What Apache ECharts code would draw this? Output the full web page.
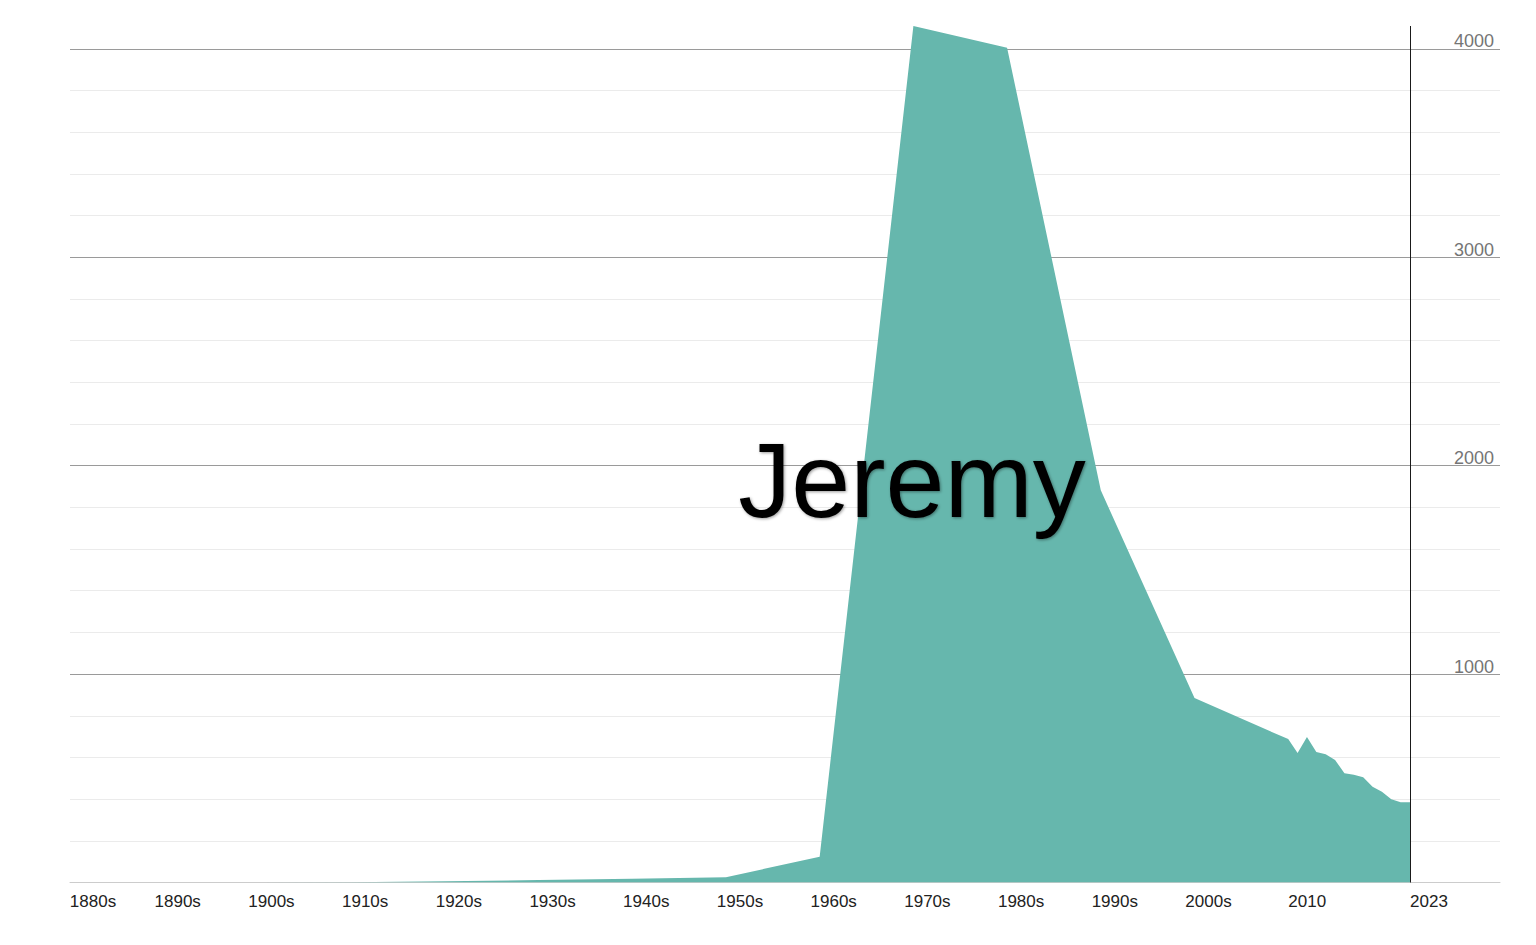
<!DOCTYPE html>
<html>
<head>
<meta charset="utf-8">
<script src="https://cdn.jsdelivr.net/npm/echarts@6/dist/echarts.min.js"></script>
<style>
  html, body { margin: 0; padding: 0; background: #ffffff; }
  #chart { width: 1536px; height: 945px; }
</style>
</head>
<body>
<div id="chart"></div>
<script>
// ---- data ----
const nameTitle = 'Jeremy';
const decadeYears  = [1880, 1890, 1900, 1910, 1920, 1930, 1940, 1950, 1960, 1970, 1980, 1990, 2000];
const decadeCounts = [0, 0, 0, 1, 6, 12, 18, 25, 124, 4110, 4006, 1882, 885];
const singleYears  = [2010, 2011, 2012, 2013, 2014, 2015, 2016, 2017, 2018, 2019, 2020, 2021, 2022, 2023];
const singleCounts = [688, 621, 698, 626, 616, 588, 524, 517, 505, 460, 436, 399, 385, 385];
const xTickYears   = [1880, 1890, 1900, 1910, 1920, 1930, 1940, 1950, 1960, 1970, 1980, 1990, 2000, 2010, 2023];
const xTickLabels  = ['1880s', '1890s', '1900s', '1910s', '1920s', '1930s', '1940s', '1950s', '1960s', '1970s', '1980s', '1990s', '2000s', '2010', '2023'];
const yTickValues  = [1000, 2000, 3000, 4000];
const currentYear  = 2023;

// ---- build ----
const points = decadeYears.map((y, i) => [y, decadeCounts[i]])
  .concat(singleYears.map((y, i) => [y, singleCounts[i]]));

const labelFont = "'Liberation Sans', Arial, sans-serif";
const baseRich = { fontSize: 17, lineHeight: 17, color: '#222222', fontFamily: labelFont };
const chart = echarts.init(document.getElementById('chart'), null, { renderer: 'svg' });

chart.setOption({
  animation: false,
  backgroundColor: '#ffffff',
  grid: { left: 70, right: 36, top: 26, bottom: 62.5, containLabel: false, outerBoundsMode: 'none' },
  xAxis: {
    type: 'value',
    min: 1880,
    max: 2032.6,
    splitLine: { show: false },
    axisTick: { show: false },
    axisLine: { show: true, lineStyle: { color: '#cccccc', width: 1 } },
    axisLabel: {
      customValues: xTickYears,
      margin: 10,
      fontSize: 17,
      lineHeight: 17,
      color: '#222222',
      fontFamily: labelFont,
      formatter: function (v) {
        const i = xTickYears.indexOf(Math.round(v));
        if (i < 0) return '';
        const t = xTickLabels[i];
        if (i === 0) return '{f|' + t + '}';
        if (i >= xTickYears.length - 2) return '{y|' + t + '}';
        return '{d|' + t + '}';
      },
      rich: {
        d: Object.assign({ padding: [0, 0, 0, 28] }, baseRich),
        f: Object.assign({ padding: [0, 0, 0, 46] }, baseRich),
        y: Object.assign({ padding: [0, 0, 0, 38] }, baseRich)
      }
    }
  },
  yAxis: {
    type: 'value',
    position: 'right',
    min: 0,
    max: function (e) { return e.max; },
    interval: 200,
    axisLine: { show: false },
    axisTick: { show: false },
    splitLine: {
      show: true,
      showMinLine: false,
      showMaxLine: false,
      lineStyle: { color: ['#ebebeb', '#ebebeb', '#ebebeb', '#ebebeb', '#9a9a9a'], width: 1 }
    },
    axisLabel: {
      inside: true,
      margin: 6,
      fontSize: 18,
      lineHeight: 15,
      verticalAlign: 'bottom',
      color: '#757575',
      fontFamily: labelFont,
      formatter: function (v) { return yTickValues.indexOf(v) >= 0 ? String(v) : ''; }
    }
  },
  series: [{
    type: 'line',
    data: points,
    symbol: 'none',
    lineStyle: { width: 0 },
    areaStyle: { color: '#66b7ad', opacity: 1 },
    markLine: {
      silent: true,
      symbol: ['none', 'none'],
      label: { show: false },
      lineStyle: { color: '#1a1a1a', width: 1, type: 'solid' },
      data: [{ xAxis: currentYear }]
    },
    z: 2
  }],
  graphic: [{
    type: 'text',
    x: 912,
    y: 480,
    z: 100,
    style: {
      text: nameTitle,
      fill: '#000000',
      font: "106px 'Liberation Sans', Arial, sans-serif",
      textAlign: 'center',
      textVerticalAlign: 'middle',
      textShadowColor: 'rgba(0,0,0,0.4)',
      textShadowBlur: 3,
      textShadowOffsetX: 1,
      textShadowOffsetY: 1
    }
  }]
});
</script>
</body>
</html>
